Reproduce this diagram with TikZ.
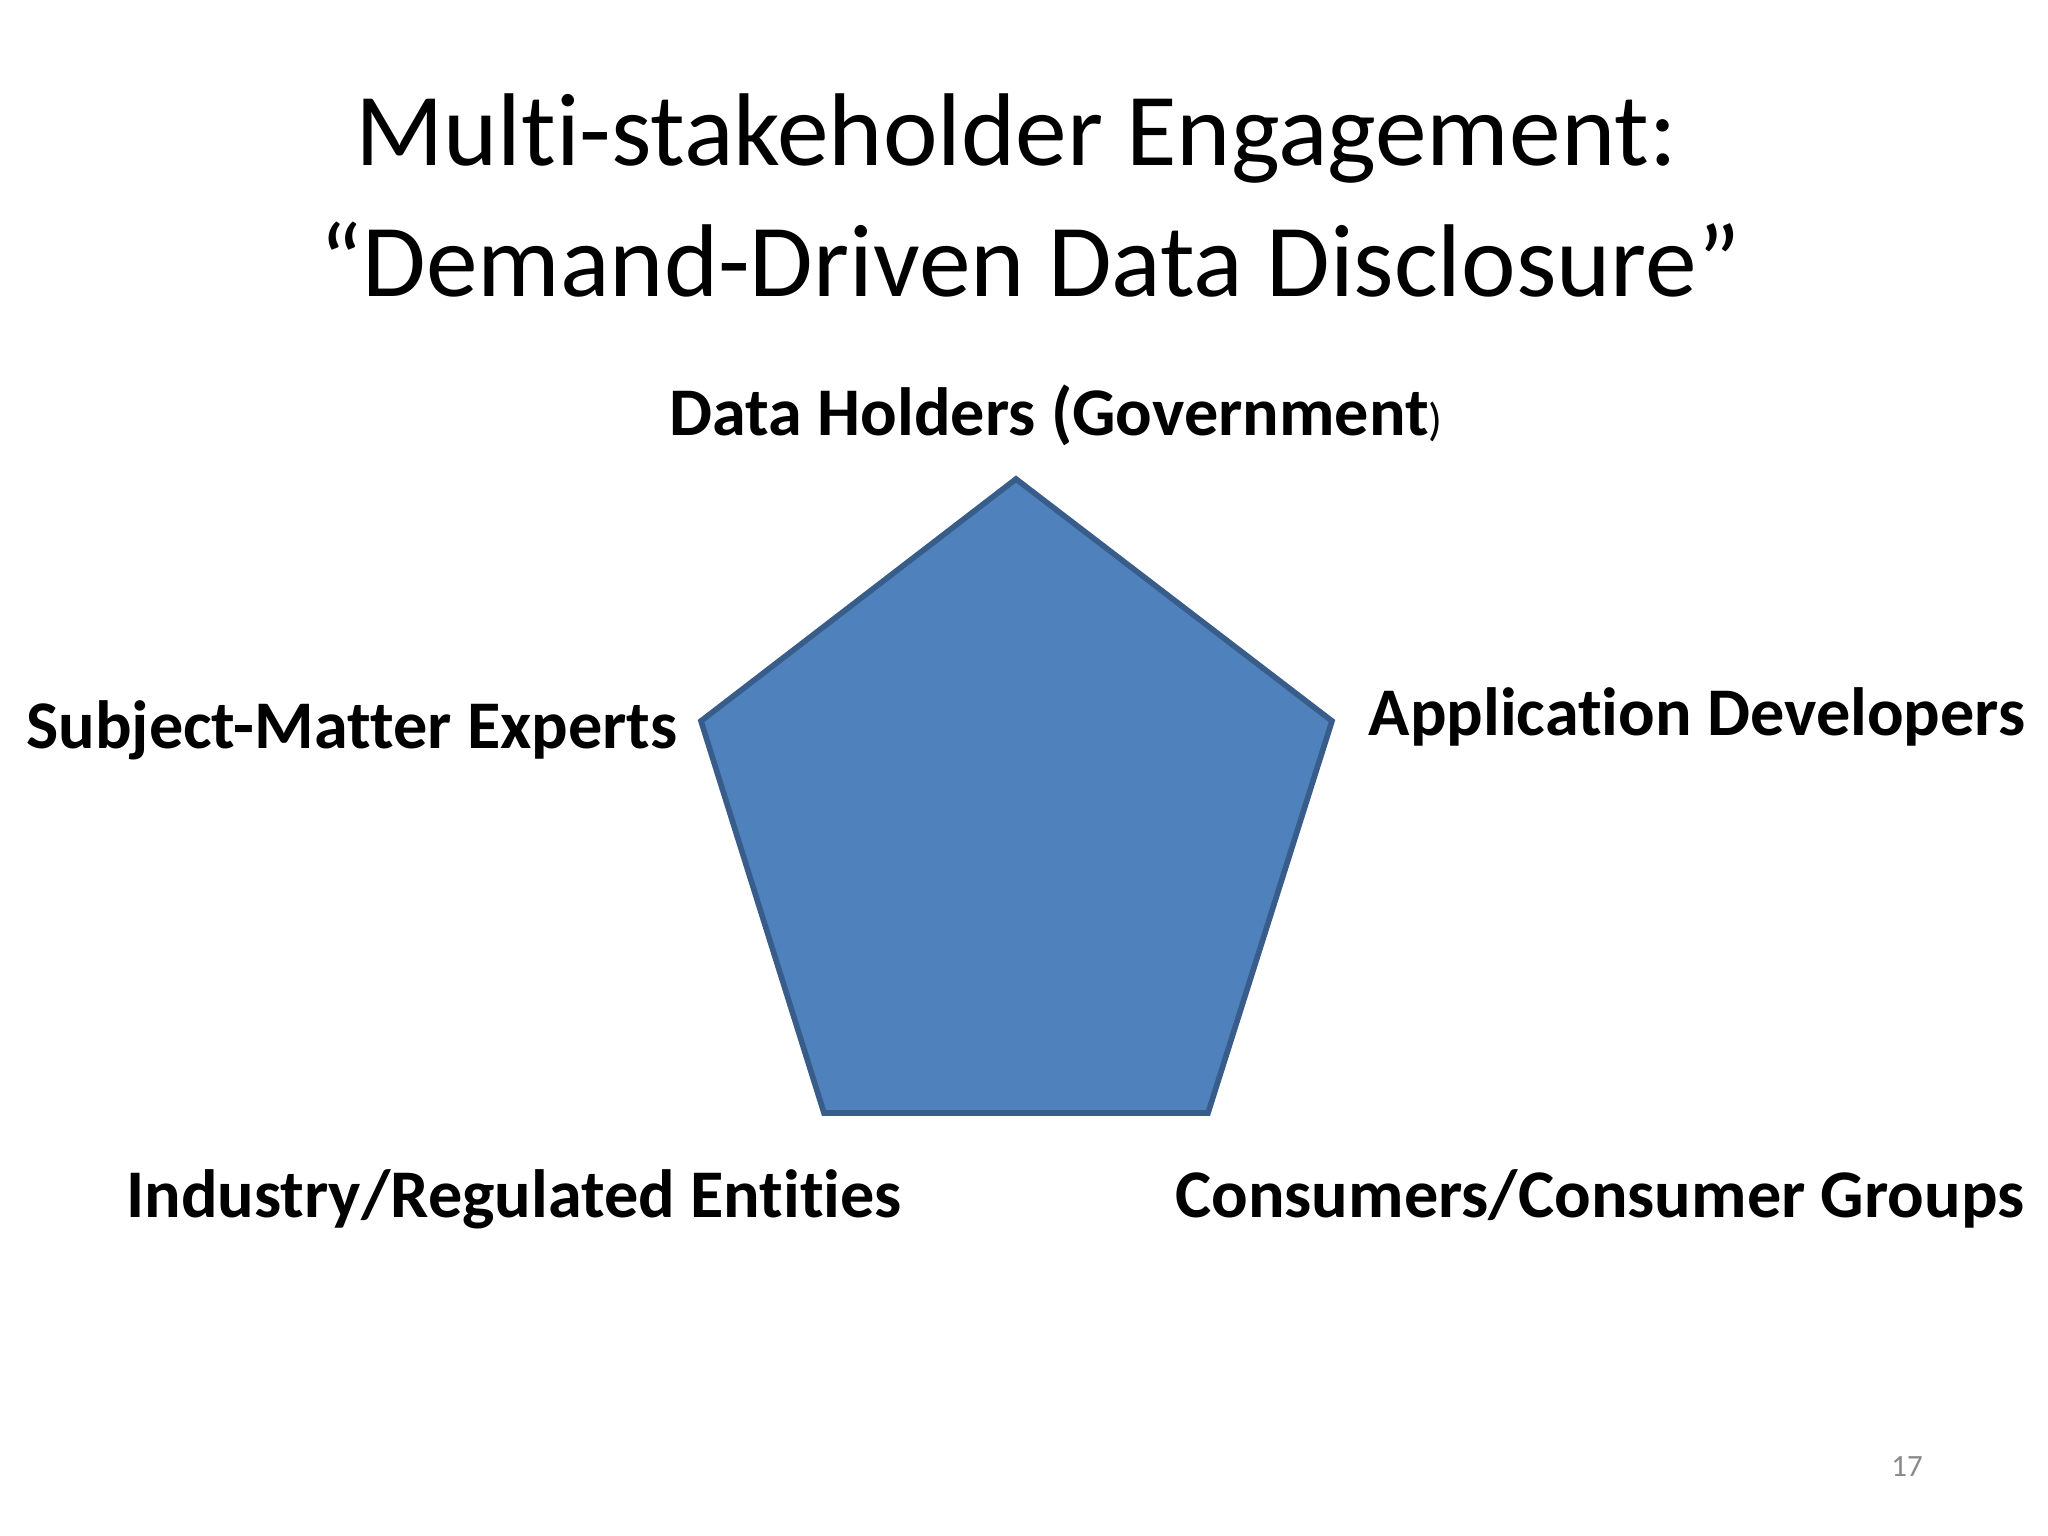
\documentclass[tikz,border=0pt]{standalone}
\usepackage{fontspec}
\setmainfont{Carlito}[Ligatures={NoCommon}]
\definecolor{pentafill}{RGB}{79,129,189}
\definecolor{pentaline}{RGB}{56,93,138}
\definecolor{pagegray}{RGB}{137,137,137}
\tikzset{
  titletext/.style={font=\fontsize{29.4}{35}\selectfont},
  stakeholder/.style={font=\fontsize{19.4}{23}\selectfont\bfseries},
}
\begin{document}
\begin{tikzpicture}[x=0.01cm, y=-0.01cm]
  \useasboundingbox[fill=white] (0,0) rectangle (2048,1536);
  % title
  \node[titletext] (title1) at (1016,138) {Multi-stakeholder Engagement:};
  \node[titletext] (title2) at (1030,260) {“Demand-Driven Data Disclosure”};
  % pentagon
  \coordinate (top) at (1016,479);
  \coordinate (ur)  at (1332,721);
  \coordinate (lr)  at (1208,1113);
  \coordinate (ll)  at (824,1113);
  \coordinate (ul)  at (701,721);
  \filldraw[fill=pentafill, draw=pentaline, line width=1.6pt, line join=miter]
    (top) -- (ur) -- (lr) -- (ll) -- (ul) -- cycle;
  % stakeholders
  \node[stakeholder] (gov) at (1056,415)
    {Data Holders (Government{\mdseries\fontsize{13}{15}\selectfont)}};
  \node[stakeholder] (sme) at (352,730) {Subject-Matter Experts};
  \node[stakeholder] (dev) at (1697,717) {Application Developers};
  \node[stakeholder] (ind) at (514,1199) {Industry/Regulated Entities};
  \node[stakeholder] (con) at (1600,1199) {Consumers/Consumer Groups};
  % page number
  \node[text=pagegray, font=\fontsize{8.8}{10}\selectfont] (page) at (1907,1467) {17};
\end{tikzpicture}
\end{document}
